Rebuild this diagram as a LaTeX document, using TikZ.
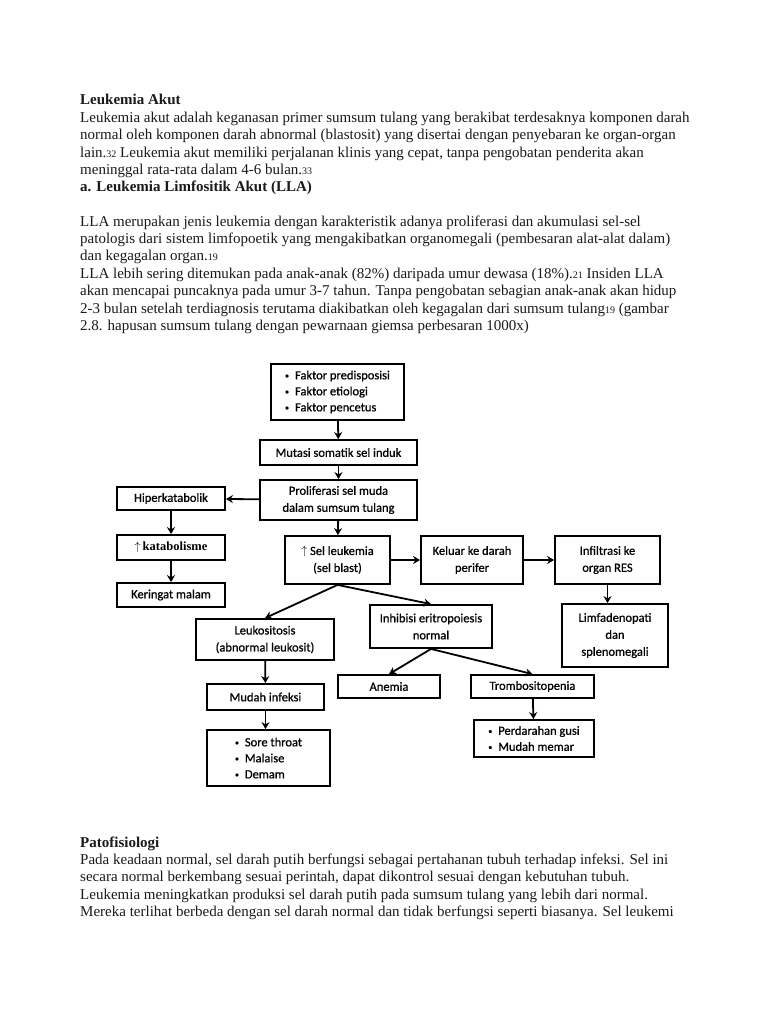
\documentclass[tikz,border=0pt]{standalone}
\usepackage{fontspec}
\setmainfont{Liberation Serif}
\newfontfamily\chartfont[FakeBold=0.8]{Carlito}
\definecolor{TXTblack}{HTML}{1A1A1A}
\newcommand{\refno}[1]{{\fontsize{10}{10}\selectfont #1}}
\newcommand{\bul}{\raisebox{1pt}{\fontsize{8}{8}\selectfont\textbullet}\hspace{6pt}}
\newcommand{\upar}{$\uparrow$}
\usetikzlibrary{arrows.meta, positioning}

\begin{document}
\begin{tikzpicture}[x=1pt, y=-1pt,
    body/.style={anchor=base west, inner sep=0pt, text=TXTblack, font=\fontsize{15}{17.4}\selectfont},
    box/.style={draw, line width=1.8pt, inner sep=2pt, align=center, font=\chartfont\fontsize{12.5}{17}\selectfont},
    arr/.style={-{Stealth[length=7pt, width=8pt]}, line width=1.8pt}]
  \useasboundingbox (0,0) rectangle (768,1024);
  \fill[white] (0,0) rectangle (768,1024);
  % Leukemia akut
  \foreach \t [count=\i from 0] in {
      {\textbf{Leukemia Akut}},
      {Leukemia akut adalah keganasan primer sumsum tulang yang berakibat terdesaknya komponen darah},
      {normal oleh komponen darah abnormal (blastosit) yang disertai dengan penyebaran ke organ-organ},
      {lain.\refno{32} Leukemia akut memiliki perjalanan klinis yang cepat, tanpa pengobatan penderita akan},
      {meninggal rata-rata dalam 4-6 bulan.\refno{33}},
      {\textbf{a. Leukemia Limfositik Akut (LLA)}}}
    \node[body] (akut\i) at (80, 105+17.4*\i) {\t};
  % LLA
  \foreach \t [count=\i from 0] in {
      {LLA merupakan jenis leukemia dengan karakteristik adanya proliferasi dan akumulasi sel-sel},
      {patologis dari sistem limfopoetik yang mengakibatkan organomegali (pembesaran alat-alat dalam)},
      {dan kegagalan organ.\refno{19}},
      {LLA lebih sering ditemukan pada anak-anak (82\%) daripada umur dewasa (18\%).\refno{21} Insiden LLA},
      {akan mencapai puncaknya pada umur 3-7 tahun. Tanpa pengobatan sebagian anak-anak akan hidup},
      {2-3 bulan setelah terdiagnosis terutama diakibatkan oleh kegagalan dari sumsum tulang\refno{19} (gambar},
      {2.8. hapusan sumsum tulang dengan pewarnaan giemsa perbesaran 1000x)}}
    \node[body] (lla\i) at (80, 226+17.4*\i) {\t};
  % Patofisiologi
  \foreach \t [count=\i from 0] in {
      {\textbf{Patofisiologi}},
      {Pada keadaan normal, sel darah putih berfungsi sebagai pertahanan tubuh terhadap infeksi. Sel ini},
      {secara normal berkembang sesuai perintah, dapat dikontrol sesuai dengan kebutuhan tubuh.},
      {Leukemia meningkatkan produksi sel darah putih pada sumsum tulang yang lebih dari normal.},
      {Mereka terlihat berbeda dengan sel darah normal dan tidak berfungsi seperti biasanya. Sel leukemi}}
    \node[body] (pato\i) at (80, 847+17.4*\i) {\t};

  % Boxes
  \node[box, minimum width=133, minimum height=56, align=left, font=\chartfont\fontsize{12.5}{16}\selectfont] (faktor) at (337.5,392)
    {\bul Faktor predisposisi\\ \bul Faktor etiologi\\ \bul Faktor pencetus};
  \node[box, minimum width=157, minimum height=25] (mutasi) at (338.5,452.5) {Mutasi somatik sel induk};
  \node[box, minimum width=157, minimum height=40] (prolif) at (338.5,500) {Proliferasi sel muda\\ dalam sumsum tulang};
  \node[box, minimum width=108, minimum height=23] (hiper) at (171,498.5) {Hiperkatabolik};
  \node[box, minimum width=108, minimum height=25] (katab) at (171,547.5) {\upar\,{\rmfamily\bfseries katabolisme}};
  \node[box, minimum width=108, minimum height=24] (keringat) at (171,595) {Keringat malam};
  \node[box, minimum width=105, minimum height=48] (leukemia) at (337.5,560) {\upar\ Sel leukemia\\ (sel blast)};
  \node[box, minimum width=102, minimum height=48] (keluar) at (472,560) {Keluar ke darah\\ perifer};
  \node[box, minimum width=105, minimum height=48] (infiltrasi) at (607.5,560) {Infiltrasi ke\\ organ RES};
  \node[box, minimum width=106, minimum height=63] (limfa) at (615,635.5) {Limfadenopati\\ dan\\ splenomegali};
  \node[box, minimum width=138, minimum height=41] (leukosit) at (265,639.5) {Leukositosis\\ (abnormal leukosit)};
  \node[box, minimum width=122, minimum height=43] (inhibisi) at (431,626.5) {Inhibisi eritropoiesis\\ normal};
  \node[box, minimum width=117, minimum height=26] (infeksi) at (265.5,697) {Mudah infeksi};
  \node[box, minimum width=123, minimum height=56, align=left, font=\chartfont\fontsize{12.5}{16}\selectfont] (gejala) at (268.5,758)
    {\bul Sore throat\\ \bul Malaise\\ \bul Demam};
  \node[box, minimum width=102, minimum height=23] (anemia) at (389,686.5) {Anemia};
  \node[box, minimum width=123, minimum height=23] (trombo) at (532.5,686.5) {Trombositopenia};
  \node[box, minimum width=120, minimum height=37, align=left, font=\chartfont\fontsize{12.5}{16}\selectfont] (perdarahan) at (534,738.5)
    {\bul Perdarahan gusi\\ \bul Mudah memar};

  % Arrows
  \draw[arr] (faktor) -- (mutasi);
  \draw[arr] (mutasi) -- (prolif);
  \draw[arr] (prolif) -- (hiper);
  \draw[arr] (hiper) -- (katab);
  \draw[arr] (katab) -- (keringat);
  \draw[arr] (prolif) -- (leukemia);
  \draw[arr] (leukemia) -- (keluar);
  \draw[arr] (keluar) -- (infiltrasi);
  \draw[arr] (infiltrasi.south) -- (infiltrasi.south |- limfa.north);
  \draw[arr] (leukemia.south) -- (leukosit.north);
  \draw[arr] (leukemia.south) -- (inhibisi.north);
  \draw[arr] (leukosit) -- (infeksi);
  \draw[arr] (infeksi.south) -- (infeksi.south |- gejala.north);
  \draw[arr] (inhibisi.south) -- (anemia.north);
  \draw[arr] (inhibisi.south) -- (trombo.north);
  \draw[arr] (trombo) -- (perdarahan);
\end{tikzpicture}
\end{document}
